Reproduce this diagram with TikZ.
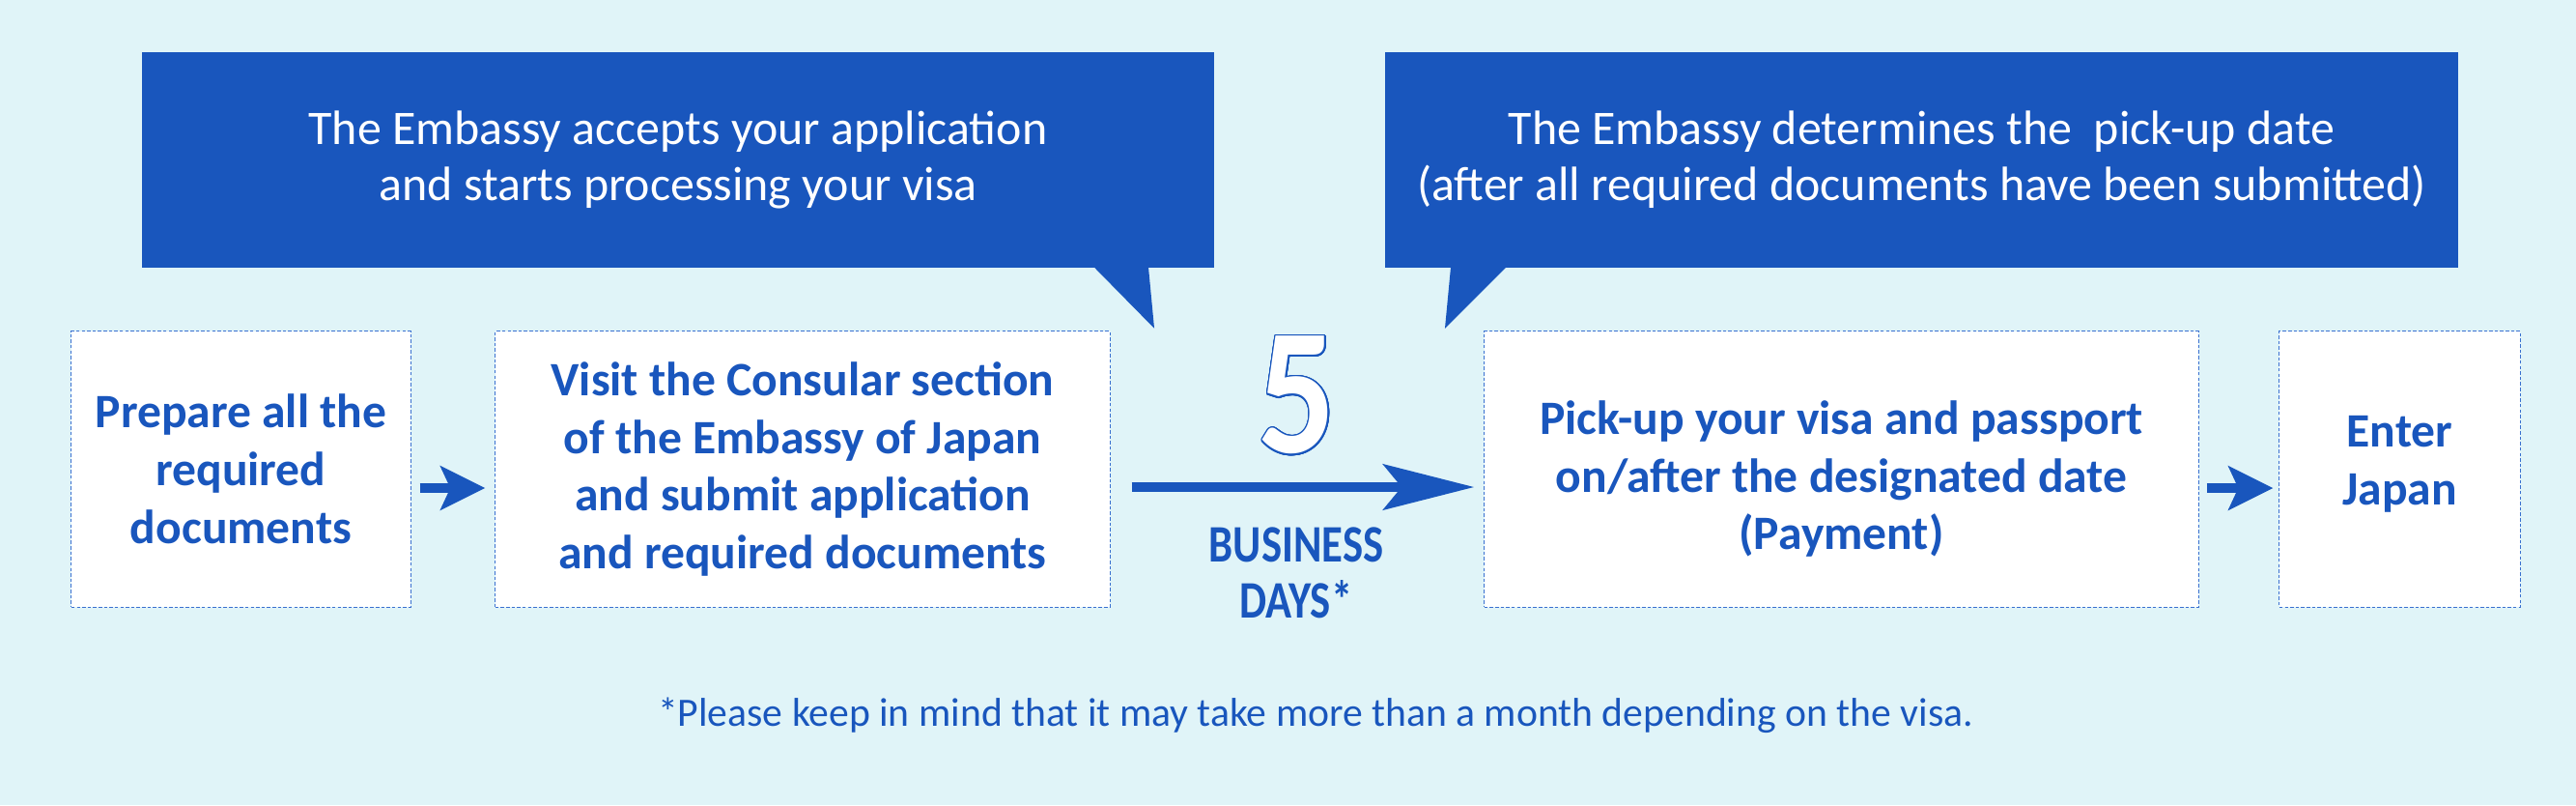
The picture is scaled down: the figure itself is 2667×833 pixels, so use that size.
\documentclass[tikz,border=0pt]{standalone}
\usepackage{fontspec}
\setmainfont{Carlito}
\usepackage{contour}
\contourlength{0.45pt}
\contournumber{24}
\usetikzlibrary{arrows.meta,calc}

\definecolor{bgcyan}{RGB}{224,244,248}
\definecolor{visablue}{RGB}{25,86,189}
\definecolor{edgeblue}{RGB}{58,112,208}

\begin{document}
\begin{tikzpicture}[x=0.01cm,y=0.01cm,
  stepbox/.style={draw=edgeblue,dash pattern=on 1pt off 0.6pt,line width=0.3pt,fill=white,inner sep=0pt,
    minimum height=2.85cm,align=center,text=visablue,font=\fontsize{14.1}{17}\selectfont\bfseries},
  steptext/.style={inner sep=0pt,align=center,text=visablue,font=\fontsize{14.1}{17}\selectfont\bfseries},
  bubble/.style={fill=visablue,inner sep=0pt,minimum height=2.23cm,align=center,text=white,
    font=\fontsize{14.2}{16.5}\selectfont},
  flow/.style={-{Stealth[length=0.46cm,width=0.45cm,inset=0.1cm]},line width=0.1cm,draw=visablue},
  bigflow/.style={-{Stealth[length=0.94cm,width=0.47cm,inset=0.19cm]},line width=0.1cm,draw=visablue}
]
\useasboundingbox (0,0) rectangle (2667,833);
\fill[bgcyan] (0,0) rectangle (2667,833);

% speech bubbles
\node[bubble,minimum width=11.10cm] (accept) at (702,667.5) {The Embassy accepts your application\\and starts processing your visa};
\node[bubble,minimum width=11.11cm] (pickdate) at (1989.5,667.5) {The Embassy determines the\ \ pick-up date\\(after all required documents have been submitted)};
\fill[visablue] ($(accept.south east)+(-125,1)$) -- ($(accept.south east)+(-63,-62)$) -- ($(accept.south east)+(-69,1)$) -- cycle;
\fill[visablue] ($(pickdate.south west)+(69,1)$) -- ($(pickdate.south west)+(63,-62)$) -- ($(pickdate.south west)+(126,1)$) -- cycle;

% steps
\node[stepbox,minimum width=3.51cm] (prep) at (249.5,347.5) {Prepare all the\\required\\documents};
\node[stepbox,minimum width=6.36cm] (visit) at (831,347.5) {Visit the Consular section\\of the Embassy of Japan\\and submit application\\and required documents};
\node[stepbox,minimum width=7.39cm] (pickup) at (1906.5,347.5) {};
\node[steptext] (pickuptext) at ([yshift=-0.1cm]pickup.center) {Pick-up your visa and passport\\on/after the designated date\\(Payment)};
\node[stepbox,minimum width=2.49cm] (enter) at (2484.5,347.5) {};
\node[steptext] (entertext) at ([yshift=0.05cm]enter.center) {Enter\\Japan};

\draw[flow,shorten <=0.09cm,shorten >=0.1cm] ([yshift=-0.195cm]prep.east) -- ([yshift=-0.195cm]visit.west);
\draw[bigflow,shorten <=0.22cm,shorten >=0.1cm] ([yshift=-0.185cm]visit.east) -- ([yshift=-0.185cm]pickup.west);
\draw[flow,shorten <=0.08cm,shorten >=0.06cm] ([yshift=-0.195cm]pickup.east) -- ([yshift=-0.195cm]enter.west);

% waiting time
\node[anchor=base,inner sep=0pt,text=white,font=\fontsize{53}{53}\selectfont\bfseries] (five) at (1343,364) {\scalebox{0.85}[1]{\contour{visablue}{5}}};
\node[inner sep=0pt,align=center,text=visablue,font=\fontsize{15.5}{16.5}\selectfont\bfseries] (days) at (1342,240) {\scalebox{0.82}[1]{BUSINESS}\\\scalebox{0.82}[1]{DAYS*}};

\node[anchor=base,inner sep=0pt,text=visablue,font=\fontsize{11.85}{13}\selectfont] (note) at (1362,82) {*Please keep in mind that it may take more than a month depending on the visa.};

\end{tikzpicture}
\end{document}
